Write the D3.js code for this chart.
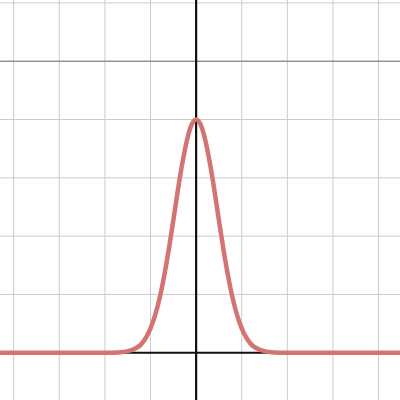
<!DOCTYPE html>
<html><head><meta charset="utf-8">
<script src="https://cdn.jsdelivr.net/npm/d3@7"></script>
<style>body{margin:0;background:#fff}</style>
</head><body><svg id="chart" width="400" height="400"></svg>
<script>
// curve samples (x in grid units, y in grid units)
const curveX = [-4.4, -2, -1.7, -1.4, -1.2, -1.0, -0.9, -0.8, -0.7, -0.6, -0.5, -0.4, -0.3, -0.2, -0.1, 0,
                0.1, 0.2, 0.3, 0.4, 0.5, 0.6, 0.7, 0.8, 0.9, 1.0, 1.2, 1.4, 1.7, 2, 4.5];
const curveY = [0, 0, 0.006, 0.05, 0.15, 0.42, 0.64, 0.94, 1.32, 1.77, 2.27, 2.79, 3.26, 3.65, 3.91, 4,
                3.91, 3.65, 3.26, 2.79, 2.27, 1.77, 1.32, 0.94, 0.64, 0.42, 0.15, 0.05, 0.006, 0, 0];
const gridX = [-4, -3, -2, -1, 1, 2, 3, 4];
const gridY = [-1, 1, 2, 3, 4, 5, 6];
const hLine = 5;

const width = 400, height = 400;
const svg = d3.select('#chart');
const xScale = d3.scaleLinear().domain([-4.3, 4.47]).range([0, width]);
const yScale = d3.scaleLinear().domain([-0.81, 6.05]).range([height, 0]);

svg.selectAll('.gx').data(gridX).enter().append('line')
  .attr('x1', d => xScale(d)).attr('x2', d => xScale(d))
  .attr('y1', 0).attr('y2', height)
  .attr('stroke', '#ccc').attr('stroke-width', 1);
svg.selectAll('.gy').data(gridY).enter().append('line')
  .attr('y1', d => yScale(d)).attr('y2', d => yScale(d))
  .attr('x1', 0).attr('x2', width)
  .attr('stroke', '#ccc').attr('stroke-width', 1);

// darker horizontal line
svg.append('line')
  .attr('x1', 0).attr('x2', width)
  .attr('y1', yScale(hLine)).attr('y2', yScale(hLine))
  .attr('stroke', '#777').attr('stroke-width', 1);

// axes
svg.append('line').attr('x1', 0).attr('x2', width)
  .attr('y1', yScale(0)).attr('y2', yScale(0))
  .attr('stroke', '#111').attr('stroke-width', 2.2);
svg.append('line').attr('x1', xScale(0)).attr('x2', xScale(0))
  .attr('y1', 0).attr('y2', height)
  .attr('stroke', '#111').attr('stroke-width', 2.2);

const line = d3.line()
  .x((d, i) => xScale(curveX[i]))
  .y(d => yScale(d))
  .curve(d3.curveMonotoneX);

svg.append('path')
  .datum(curveY)
  .attr('fill', 'none')
  .attr('stroke', '#d47472')
  .attr('stroke-width', 4.5)
  .attr('d', line);
</script>
</body></html>
